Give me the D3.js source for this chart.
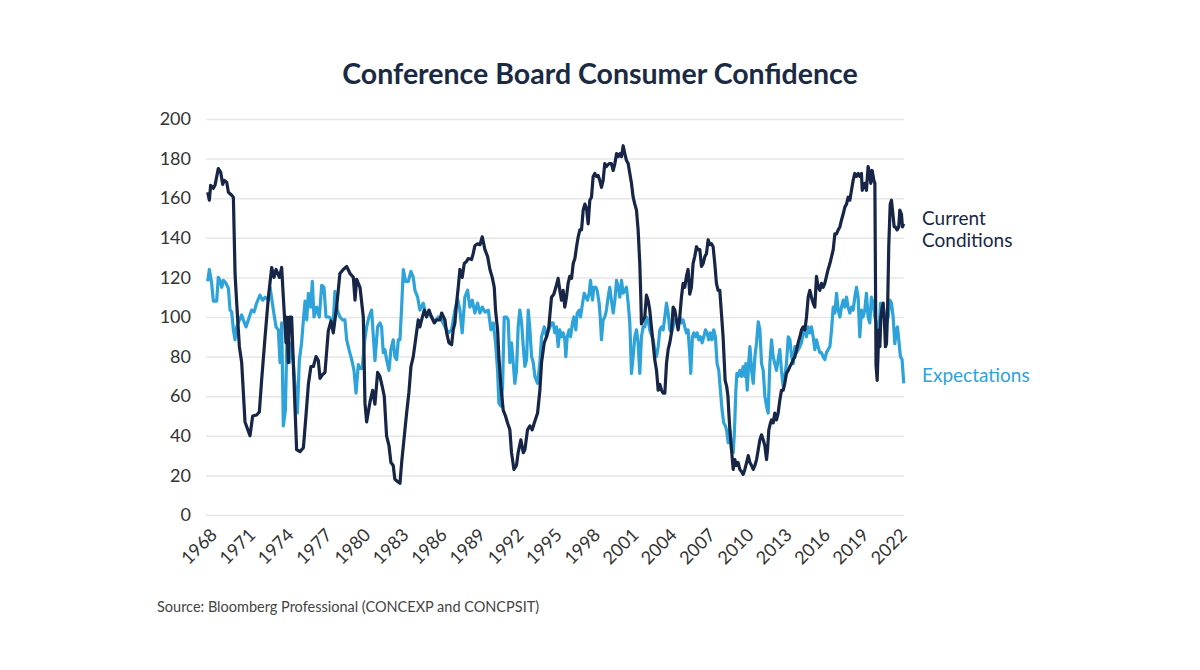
<!DOCTYPE html>
<html>
  <head>
    <meta charset="utf-8">
    <title>Conference Board Consumer Confidence</title>
    <script src="https://d3js.org/d3.v7.min.js"></script>
    <style>
      body { margin: 0; background-color: #ffffff; }
      svg { display: block; font-family: Lato, "Open Sans", sans-serif; }
    </style>
  </head>
  <body>
<script>
// Present situation index, [decimal year, value]
var currentConditions = [
  [1968.00,163],[1968.13,159],[1968.23,166.5],[1968.44,165],[1968.57,166.5],[1968.83,175],[1969.02,173],
  [1969.17,167],[1969.28,169],[1969.49,168],[1969.62,163],[1969.88,161.5],[1970.01,160.5],[1970.14,122],
  [1970.27,107],[1970.48,85],[1970.66,77],[1970.92,47],[1971.31,40],[1971.52,50],[1971.83,50.5],
  [1972.04,52],[1972.22,68],[1972.49,90],[1972.75,110],[1973.01,125],[1973.19,120],[1973.35,124],
  [1973.61,120],[1973.79,125],[1973.92,110],[1974.13,87],[1974.18,100],[1974.31,77],[1974.39,100],
  [1974.57,100],[1974.78,63],[1974.96,33],[1975.22,32],[1975.49,34],[1975.69,50],[1975.88,66],
  [1976.08,75],[1976.27,75],[1976.48,80],[1976.66,78],[1976.79,69],[1977.00,71],[1977.18,72],
  [1977.44,93],[1977.65,98],[1977.83,92],[1978.09,105],[1978.35,122],[1978.61,124],[1978.88,125.5],
  [1979.14,122],[1979.40,120],[1979.53,108.5],[1979.66,119],[1979.92,115],[1980.18,100],[1980.31,56.5],
  [1980.44,47],[1980.70,57],[1980.91,63],[1981.09,56],[1981.30,72],[1981.48,70],[1981.66,65],
  [1981.82,60],[1982.00,40],[1982.19,35],[1982.34,26.5],[1982.52,25],[1982.65,18],[1982.84,17],
  [1983.05,16],[1983.18,26.5],[1983.39,40],[1983.57,51.5],[1983.75,62],[1983.91,75],[1984.09,80],
  [1984.27,88.5],[1984.48,98.5],[1984.61,95],[1984.74,98.5],[1984.95,103.5],[1985.13,100],[1985.32,103.5],
  [1985.52,100],[1985.73,97],[1985.91,98.5],[1986.18,98.5],[1986.31,102],[1986.57,98.5],[1986.70,92],
  [1986.88,87],[1987.09,86],[1987.22,93.5],[1987.35,97],[1987.48,107],[1987.61,115],[1987.74,124],
  [1987.92,120],[1988.08,127],[1988.26,128],[1988.39,129.5],[1988.65,129],[1988.78,132],[1988.91,136],
  [1989.12,137],[1989.31,136.5],[1989.49,140.5],[1989.70,134],[1989.91,130.5],[1990.09,124],[1990.27,120],
  [1990.43,115],[1990.53,103.5],[1990.69,93.5],[1990.79,80],[1990.95,65],[1991.13,53],[1991.31,50],
  [1991.47,46.5],[1991.65,43],[1991.78,31.5],[1991.97,23],[1992.17,25],[1992.30,31.5],[1992.51,38],
  [1992.70,31.5],[1992.83,33],[1993.03,43],[1993.22,45],[1993.40,43],[1993.56,46.5],[1993.82,51.5],
  [1994.00,63],[1994.13,77],[1994.34,87],[1994.52,90],[1994.70,95],[1994.91,110],[1995.09,111.5],
  [1995.25,115],[1995.43,119.5],[1995.56,113.5],[1995.69,108.5],[1995.82,113.5],[1995.95,105],[1996.08,110],
  [1996.21,117],[1996.34,120.5],[1996.48,119.5],[1996.61,127],[1996.74,129.5],[1996.87,135.5],[1997.00,140.5],
  [1997.13,144],[1997.26,144],[1997.39,154],[1997.52,157],[1997.65,155],[1997.78,147],[1997.91,159],
  [1998.04,160.5],[1998.17,171],[1998.30,172.5],[1998.43,171],[1998.56,171.5],[1998.69,169],[1998.82,165.5],
  [1998.95,169],[1999.08,177.5],[1999.21,176],[1999.42,177.5],[1999.60,177.5],[1999.74,174],[1999.87,177.5],
  [2000.00,182.5],[2000.13,181],[2000.26,182.5],[2000.39,181],[2000.52,186.5],[2000.65,182.5],[2000.78,179],
  [2000.91,177.5],[2001.04,172.5],[2001.17,167.5],[2001.30,160.5],[2001.43,157],[2001.56,154],[2001.69,144],
  [2001.82,127],[2001.90,110],[2001.95,96.5],[2002.08,98.5],[2002.21,100],[2002.34,111],[2002.47,108.5],
  [2002.60,103.5],[2002.73,95],[2002.86,87],[2002.99,78.5],[2003.13,73],[2003.26,63],[2003.39,66],
  [2003.52,63],[2003.65,61.5],[2003.78,61.5],[2003.91,76.5],[2004.04,83.5],[2004.17,87],[2004.30,92],
  [2004.43,105],[2004.56,103.5],[2004.69,98.5],[2004.82,93.5],[2004.95,100],[2005.08,110],[2005.21,117],
  [2005.34,115],[2005.47,120.5],[2005.60,124],[2005.73,111.5],[2005.86,115],[2005.99,127],[2006.12,130.5],
  [2006.26,135.5],[2006.39,134],[2006.52,134],[2006.65,125.5],[2006.78,127],[2006.91,130.5],[2007.04,132],
  [2007.17,139],[2007.30,136.5],[2007.43,137],[2007.56,135.5],[2007.69,127],[2007.82,117],[2007.95,113.5],
  [2008.08,113.5],[2008.21,102],[2008.34,90],[2008.50,68],[2008.62,65],[2008.72,60],[2008.79,51.5],
  [2008.87,43],[2009.00,33],[2009.13,23],[2009.26,28],[2009.39,25],[2009.52,26.5],[2009.65,23],
  [2009.78,22],[2009.91,20.5],[2010.04,23],[2010.18,26.5],[2010.31,30],[2010.44,26.5],[2010.57,25],
  [2010.70,23],[2010.83,25],[2010.96,28],[2011.09,33],[2011.22,38],[2011.35,40.5],[2011.48,38],
  [2011.61,35],[2011.74,28],[2011.82,33],[2011.92,43],[2012.05,46.5],[2012.13,48],[2012.26,46.5],
  [2012.39,51.5],[2012.52,48],[2012.65,51.5],[2012.78,58],[2012.91,63],[2013.04,63],[2013.17,66.5],
  [2013.30,71.5],[2013.44,73],[2013.57,75],[2013.70,76.5],[2013.83,78.5],[2013.96,80],[2014.09,83.5],
  [2014.22,87],[2014.35,90],[2014.48,93.5],[2014.61,95],[2014.74,93.5],[2014.87,100],[2015.00,110],
  [2015.13,113.5],[2015.26,110],[2015.39,107],[2015.52,105],[2015.65,120.5],[2015.78,115],[2015.91,113.5],
  [2016.04,117],[2016.17,115],[2016.30,117],[2016.43,120.5],[2016.56,124],[2016.70,127],[2016.83,130.5],
  [2016.96,134],[2017.09,142],[2017.22,142],[2017.35,144],[2017.48,145.5],[2017.61,149],[2017.74,152],
  [2017.87,155.5],[2018.00,157],[2018.13,160.5],[2018.26,159],[2018.39,164],[2018.52,169],[2018.65,172.5],
  [2018.78,171],[2018.91,172.5],[2019.04,171],[2019.17,172.5],[2019.23,164],[2019.30,165.5],[2019.43,167.5],
  [2019.56,164],[2019.69,176],[2019.82,172.5],[2019.90,167.5],[2020.01,174],[2020.14,169],[2020.22,167.5],
  [2020.31,76],[2020.40,68],[2020.53,93.5],[2020.61,85],[2020.69,100],[2020.79,105],[2020.87,107],
  [2020.95,100],[2021.05,85],[2021.13,86.5],[2021.21,102],[2021.31,136.5],[2021.42,157],[2021.52,159],
  [2021.60,154],[2021.73,145.5],[2021.83,145.5],[2021.96,144],[2022.09,145.5],[2022.17,154],[2022.30,152],
  [2022.38,145.5],[2022.48,147]
];

// Expectations index, [decimal year, value]
var expectations = [
  [1968.00,118],[1968.13,124],[1968.31,117],[1968.44,108],[1968.70,108],[1968.83,120],[1968.96,118.5],
  [1969.10,115],[1969.23,118.5],[1969.43,117],[1969.62,114.5],[1969.75,103.5],[1969.88,102.5],[1970.01,93.5],
  [1970.14,88.5],[1970.27,95],[1970.48,98.5],[1970.66,101],[1970.79,98.5],[1971.00,95],[1971.18,98.5],
  [1971.44,103.5],[1971.63,102.5],[1971.83,107],[1972.09,111],[1972.30,108.5],[1972.49,110],[1972.75,108.5],
  [1972.88,115],[1973.14,103.5],[1973.35,95],[1973.53,93.5],[1973.66,77],[1973.79,97],[1973.92,45],
  [1974.08,53],[1974.23,97],[1974.39,77],[1974.57,87],[1974.70,77],[1974.83,66],[1975.02,51.5],
  [1975.17,78],[1975.35,87],[1975.49,98.5],[1975.62,108],[1975.75,98.5],[1975.88,112],[1976.06,105],
  [1976.19,118],[1976.32,100],[1976.53,105],[1976.74,100],[1976.92,116],[1977.10,115],[1977.26,100],
  [1977.52,100],[1977.83,97.5],[1977.96,113],[1978.14,103.5],[1978.35,100],[1978.56,98.5],[1978.74,98.5],
  [1978.88,88.5],[1979.06,83.5],[1979.27,78.5],[1979.45,73],[1979.61,61.5],[1979.79,76],[1979.92,74],
  [1980.10,74],[1980.26,87],[1980.44,95],[1980.62,100],[1980.83,103.5],[1981.09,78],[1981.30,95],
  [1981.48,97],[1981.61,95],[1981.74,82],[1981.87,83.5],[1982.00,78.5],[1982.19,73],[1982.34,83.5],
  [1982.52,88.5],[1982.65,80],[1982.79,78.5],[1982.92,88.5],[1983.05,88.5],[1983.18,105],[1983.31,124],
  [1983.49,118],[1983.70,118],[1983.91,123],[1984.09,120],[1984.22,113.5],[1984.43,110],[1984.61,103.5],
  [1984.87,107],[1985.05,102],[1985.26,102],[1985.52,100],[1985.78,97.5],[1986.05,100],[1986.31,98.5],
  [1986.57,95],[1986.83,92],[1987.09,93.5],[1987.35,103.5],[1987.56,109],[1987.74,103.5],[1987.92,92],
  [1988.13,110],[1988.34,113.5],[1988.52,105],[1988.71,108.5],[1988.91,102],[1989.12,107],[1989.31,102],
  [1989.49,105],[1989.70,102.5],[1989.96,103.5],[1990.17,93.5],[1990.35,97],[1990.53,87],[1990.69,73],
  [1990.79,56.5],[1990.95,55],[1991.08,65],[1991.21,100],[1991.39,100],[1991.52,98.5],[1991.65,77],
  [1991.78,87],[1991.91,77],[1992.04,66.5],[1992.17,73],[1992.30,95],[1992.43,103.5],[1992.57,97],
  [1992.70,85],[1992.83,75],[1992.96,78.5],[1993.09,103.5],[1993.22,93.5],[1993.35,80],[1993.48,77],
  [1993.61,70],[1993.82,66.5],[1994.00,77],[1994.13,90],[1994.34,95],[1994.52,90],[1994.70,93.5],
  [1994.91,97],[1995.04,97],[1995.17,92],[1995.30,95],[1995.43,85],[1995.56,93.5],[1995.69,90],
  [1995.82,92],[1995.95,88.5],[1996.03,80],[1996.14,90],[1996.29,93.5],[1996.40,90],[1996.55,97],
  [1996.66,100],[1996.81,93.5],[1996.92,102],[1997.08,103.5],[1997.18,100],[1997.34,107],[1997.47,112],
  [1997.60,110],[1997.73,108.5],[1997.86,112],[1997.96,118.5],[1998.12,108.5],[1998.22,115],[1998.38,115],
  [1998.48,113.5],[1998.64,107],[1998.74,98.5],[1998.82,88.5],[1998.95,98.5],[1999.08,100],[1999.21,103.5],
  [1999.34,110],[1999.47,115],[1999.60,108.5],[1999.74,102],[1999.87,108.5],[2000.00,118.5],[2000.13,115],
  [2000.26,110],[2000.39,118.5],[2000.52,112],[2000.65,113.5],[2000.78,115],[2000.91,107],[2001.04,97],
  [2001.17,71.5],[2001.30,80],[2001.43,90],[2001.56,93.5],[2001.69,87],[2001.82,71.5],[2001.95,90],
  [2002.08,95],[2002.21,95],[2002.34,100],[2002.47,98.5],[2002.60,93.5],[2002.86,88.5],[2002.99,83.5],
  [2003.13,80],[2003.26,85],[2003.39,93.5],[2003.52,95],[2003.65,93.5],[2003.78,100],[2003.91,107],
  [2004.04,102],[2004.17,93.5],[2004.30,92],[2004.43,95],[2004.56,98.5],[2004.69,98.5],[2004.82,97],
  [2004.95,100],[2005.08,97],[2005.21,98.5],[2005.34,95],[2005.47,92],[2005.60,93.5],[2005.73,81.5],
  [2005.81,71.5],[2005.94,90],[2006.05,92],[2006.18,90],[2006.31,92],[2006.44,88.5],[2006.57,90],
  [2006.70,87],[2006.83,90],[2006.96,93.5],[2007.09,92],[2007.22,88.5],[2007.35,92],[2007.48,88.5],
  [2007.61,93.5],[2007.74,90],[2007.87,76.5],[2008.00,73],[2008.13,63],[2008.26,53],[2008.39,46.5],
  [2008.52,45],[2008.61,43],[2008.74,36.5],[2008.87,43],[2009.00,33],[2009.13,31.5],[2009.21,40],
  [2009.26,48],[2009.34,63],[2009.42,71.5],[2009.52,70],[2009.65,73],[2009.78,70],[2009.91,75],
  [2010.04,70],[2010.12,76.5],[2010.23,63],[2010.36,78.5],[2010.44,85],[2010.57,73],[2010.70,66.5],
  [2010.83,80],[2010.96,87],[2011.09,97.5],[2011.22,93.5],[2011.35,76.5],[2011.48,73],[2011.61,60],
  [2011.74,55],[2011.87,51.5],[2012.00,76.5],[2012.13,88.5],[2012.26,80],[2012.39,76.5],[2012.52,73],
  [2012.65,78.5],[2012.78,83.5],[2012.91,73],[2013.04,65],[2013.17,70],[2013.30,76.5],[2013.44,90],
  [2013.57,88.5],[2013.70,80],[2013.83,76.5],[2013.96,85],[2014.09,82],[2014.22,83.5],[2014.35,85],
  [2014.48,87],[2014.61,92],[2014.74,93.5],[2014.87,90],[2015.00,95],[2015.13,92],[2015.26,95],
  [2015.39,90],[2015.52,83.5],[2015.65,88.5],[2015.78,85],[2015.91,82],[2016.04,82],[2016.17,80],
  [2016.30,78.5],[2016.43,82],[2016.56,83.5],[2016.70,85],[2016.83,93.5],[2016.96,105],[2017.09,102],
  [2017.22,112],[2017.35,103.5],[2017.48,100],[2017.61,105],[2017.74,108.5],[2017.87,105],[2018.00,110],
  [2018.13,105],[2018.26,102],[2018.39,105],[2018.52,103.5],[2018.65,110],[2018.78,115],[2018.91,110],
  [2019.04,90],[2019.17,103.5],[2019.30,100],[2019.43,103.5],[2019.56,112],[2019.69,100],[2019.82,97],
  [2019.95,110],[2020.09,107],[2020.22,100],[2020.35,97],[2020.48,86.5],[2020.56,93.5],[2020.66,107],
  [2020.79,100],[2020.87,105],[2021.00,100],[2021.13,97],[2021.26,100],[2021.39,108.5],[2021.52,107],
  [2021.65,100],[2021.78,86.5],[2021.91,93.5],[2021.99,95],[2022.09,88.5],[2022.22,80],[2022.35,78.5],
  [2022.48,66.5]
];

var yTicks = [0, 20, 40, 60, 80, 100, 120, 140, 160, 180, 200];
var xTicks = [1968, 1971, 1974, 1977, 1980, 1983, 1986, 1989, 1992, 1995, 1998, 2001, 2004, 2007, 2010, 2013, 2016, 2019, 2022];
var seriesNames = ["Current Conditions", "Expectations"];

var w = 1200;
var h = 670;
var navy = "#172646";
var sky = "#2ea3da";

var svg = d3.select("body")
  .append("svg")
  .attr("width", w)
  .attr("height", h);

// scales
var x = d3.scaleLinear()
  .domain([1968, 2022.5])
  .range([207.7, 904]);

var y = d3.scaleLinear()
  .domain([0, 200])
  .range([515, 119]);

// title
svg.append("text")
  .attr("x", 600)
  .attr("y", 84)
  .attr("text-anchor", "middle")
  .style("font-size", "28.5px")
  .style("font-weight", "bold")
  .style("fill", "#1b2a44")
  .text("Conference Board Consumer Confidence");

// horizontal grid + y labels
var yAxis = svg.append("g")
  .attr("transform", "translate(206,0)")
  .call(d3.axisLeft(y).tickValues(yTicks).tickSize(-(904 - 206)).tickPadding(15));
yAxis.select(".domain").remove();
yAxis.selectAll(".tick line").attr("stroke", "#e6e6e6").attr("stroke-width", 1.5);
yAxis.selectAll(".tick text")
  .style("font-size", "18px")
  .style("font-family", "Lato, sans-serif")
  .attr("fill", "#333333");

// x labels, rotated
var xAxis = svg.append("g")
  .attr("transform", "translate(0,515)")
  .call(d3.axisBottom(x).tickValues(xTicks).tickFormat(d3.format("d")).tickSize(0));
xAxis.select(".domain").remove();
xAxis.selectAll(".tick text")
  .attr("text-anchor", "end")
  .attr("dy", 0)
  .attr("y", 0)
  .attr("transform", "translate(10,21) rotate(-45)")
  .style("font-size", "18px")
  .style("font-family", "Lato, sans-serif")
  .attr("fill", "#333333");

var line = d3.line()
  .x(function(d) { return x(d[0]); })
  .y(function(d) { return y(d[1]); });

svg.append("path")
  .datum(expectations)
  .attr("d", line)
  .attr("fill", "none")
  .attr("stroke", sky)
  .attr("stroke-width", 3.2)
  .attr("stroke-linejoin", "round");

svg.append("path")
  .datum(currentConditions)
  .attr("d", line)
  .attr("fill", "none")
  .attr("stroke", navy)
  .attr("stroke-width", 3.2)
  .attr("stroke-linejoin", "round");

// series labels
var lab = svg.append("text")
  .attr("x", 922)
  .attr("y", 225)
  .style("font-size", "19px")
  .style("fill", navy);
lab.append("tspan").attr("x", 922).text(seriesNames[0].split(" ")[0]);
lab.append("tspan").attr("x", 922).attr("dy", 22).text(seriesNames[0].split(" ")[1]);

svg.append("text")
  .attr("x", 922)
  .attr("y", 382)
  .style("font-size", "19px")
  .style("fill", sky)
  .text(seriesNames[1]);

// source
svg.append("text")
  .attr("x", 157)
  .attr("y", 612)
  .style("font-size", "14.5px")
  .style("fill", "#444444")
  .text("Source: Bloomberg Professional (CONCEXP and CONCPSIT)");
</script>
  </body>
</html>
